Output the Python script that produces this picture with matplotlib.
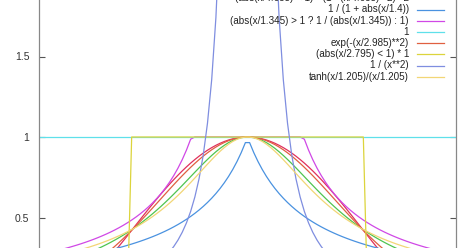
import numpy as np
import matplotlib
matplotlib.use("Agg")
import matplotlib.pyplot as plt
from matplotlib.lines import Line2D

plt.rcParams['font.family'] = ['Liberation Sans', 'DejaVu Sans']

# weight functions, as in the legend (gnuplot samples 100 points on [-5, 5])
labels = [
    "1 / (1 + (x/2.385)**2)",
    "(abs(x/4.685) < 1) * (1 - (x/4.685)**2)**2",
    "1 / (1 + abs(x/1.4))",
    "(abs(x/1.345) > 1 ? 1 / (abs(x/1.345)) : 1)",
    "1",
    "exp(-(x/2.985)**2)",
    "(abs(x/2.795) < 1) * 1",
    "1 / (x**2)",
    "tanh(x/1.205)/(x/1.205)",
]
colors = ["#4fc44f", "#e0305c", "#4a92e0", "#d048e6", "#5fe0ea",
          "#e06040", "#dcd43c", "#7f8ee0", "#f2d676"]

c_cauchy, c_tukey, c_fair, c_huber = 2.385, 4.685, 1.4, 1.345
c_welsch, c_box, c_tanh = 2.985, 2.795, 1.205

x = np.linspace(-5, 5, 100)
curves = [
    1 / (1 + (x / c_cauchy) ** 2),
    (np.abs(x / c_tukey) < 1) * (1 - (x / c_tukey) ** 2) ** 2,
    1 / (1 + np.abs(x / c_fair)),
    np.where(np.abs(x / c_huber) > 1, 1 / np.abs(x / c_huber), 1.0),
    np.ones_like(x),
    np.exp(-(x / c_welsch) ** 2),
    (np.abs(x / c_box) < 1) * 1.0,
    1 / x ** 2,
    np.tanh(x / c_tanh) / (x / c_tanh),
]

W, H = 474, 248
fig = plt.figure(figsize=(W / 100, H / 100), dpi=100)
# the picture is a crop of a larger gnuplot plot (y 0..2)
ax = fig.add_axes([39 / W, -50 / H, 417 / W, 322 / H])
for y, c in zip(curves, colors):
    ax.plot(x, y, color=c, lw=0.9)

ax.set_xlim(-5, 5)
ax.set_ylim(0, 2)
ax.set_yticks([0.5, 1, 1.5])
ax.set_yticklabels(["0.5", "1", "1.5"])
ax.set_xticks([])
ax.tick_params(axis='y', direction='in', length=4, width=0.8, color='#555555',
               labelsize=7.5, labelcolor='#333333', pad=7, right=True)
for s in ax.spines.values():
    s.set_color('#888888')
    s.set_linewidth(0.9)

# gnuplot-style key: right-aligned text, sample line to the right
# (the first entries lie above the cropped picture)
y0, step = 9.5 - 2 * 11.2, 11.2
for i, (lab, c) in enumerate(zip(labels, colors)):
    py = y0 + i * step
    if py < -8:
        continue
    fy = 1 - py / H
    fig.text(409 / W, fy, lab, ha='right', va='center', fontsize=7.1,
             color='#222222')
    fig.add_artist(Line2D([417 / W, 444 / W], [fy, fy], color=c, lw=0.9,
                          transform=fig.transFigure))

fig.savefig("out.png", dpi=100)
